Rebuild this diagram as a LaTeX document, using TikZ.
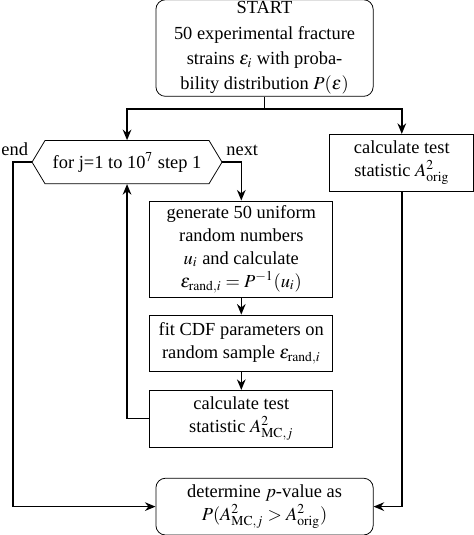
\documentclass[tikz,border=0pt]{standalone}
\usepackage{mathptmx}
\usepackage[no-math]{fontspec}
\setmainfont{Liberation Serif}
\usepackage{tikz}
\usetikzlibrary{positioning, calc, shapes.symbols, arrows.meta}

\begin{document}
\begin{tikzpicture}[
    step box/.style={
        rectangle, draw=black, thin,
        minimum width=3.35cm, minimum height=1.04cm,
        align=center, font=\fontsize{9.6}{12}\selectfont, inner sep=1pt
    },
    term box/.style={
        step box, rounded corners=5pt, minimum width=3.98cm
    },
    loop box/.style={
        signal, signal to=west and east, signal pointer angle=118,
        draw=black, thin, minimum width=3.48cm, minimum height=0.79cm,
        font=\fontsize{9.6}{12}\selectfont, inner sep=1pt
    },
    flow/.style={-{Stealth[length=5.5pt,width=4.5pt]}, thick},
    plain/.style={thick},
    tag/.style={font=\fontsize{9.6}{12}\selectfont, inner sep=0pt}
]
\useasboundingbox (0,0) rectangle (8.68,9.80);

% Start
\node[term box, minimum height=1.76cm, font=\fontsize{9.6}{13.2}\selectfont] (start) at (4.846, 8.92) {
    START \\
    50 experimental fracture \\
    strains $\varepsilon_i$ with proba- \\
    bility distribution $P(\varepsilon)$
};

% Loop head and original statistic
\node[loop box] (loop) at (2.327, 6.83) {for j=1 to 10$^7$ step 1};
\node[step box, minimum width=2.64cm] (origstat) at (7.36, 6.82) {
    calculate test \\
    statistic $A^2_\mathrm{orig}$
};

% Loop body
\node[step box, minimum height=1.76cm] (generate) at (4.42, 5.24) {
    generate 50 uniform \\
    random numbers \\
    $u_i$ and calculate \\
    $\varepsilon_{\mathrm{rand},i} = P^{-1}(u_i)$
};
\node[step box] (fitcdf) at (4.42, 3.51) {
    fit CDF parameters on \\
    random sample $\varepsilon_{\mathrm{rand},i}$
};
\node[step box] (mcstat) at (4.42, 2.13) {
    calculate test \\
    statistic $A^2_{\mathrm{MC},j}$
};

% End
\node[term box] (pvalue) at (4.846, 0.52) {
    determine $p$-value as \\
    $P(A^2_{\mathrm{MC},j} > A^2_\mathrm{orig})$
};

% Relationships
\coordinate (split) at (4.846, 7.80);
\coordinate (endturn) at (0.238, 6.83);
\draw[plain] (start) -- (split);
\draw[flow] (split) -| (loop);
\draw[flow] (split) -| (origstat);
\draw[flow] (loop.east) -| (generate.north);
\draw[flow] (generate) -- (fitcdf);
\draw[flow] (fitcdf) -- (mcstat);
\draw[flow] (mcstat.west) -| (loop.south);
\draw[flow] (loop.west) -- (endturn) |- (pvalue.west);
\draw[flow] (origstat.south) |- (pvalue.east);

\node[tag, anchor=base west] (nexttag) at (4.14, 6.96) {next};
\node[tag, anchor=base west] (endtag) at (0.02, 6.96) {end};

\end{tikzpicture}
\end{document}
